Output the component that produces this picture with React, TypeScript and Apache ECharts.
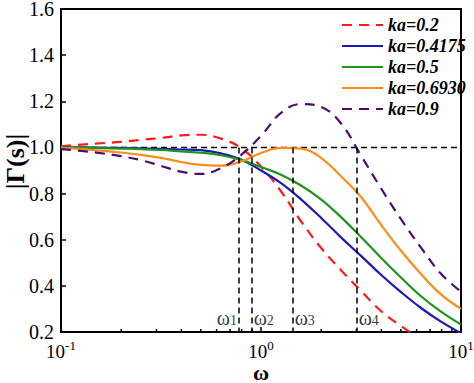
import React, { useEffect, useRef } from "react";
import * as echarts from "echarts";

const omega = [0.1, 0.126, 0.158, 0.2, 0.251, 0.316, 0.398, 0.501, 0.631, 0.794, 1.0, 1.259, 1.585, 1.995, 2.512, 3.162, 3.981, 5.012, 6.31, 7.943, 10];
const ka02 = [1.005, 1.012, 1.018, 1.024, 1.033, 1.041, 1.052, 1.055, 1.038, 0.998, 0.917, 0.81, 0.68, 0.565, 0.468, 0.378, 0.291, 0.226, 0.17, 0.13, 0.1];
const ka04175 = [1.0, 1.0, 0.999, 0.998, 0.996, 0.994, 0.991, 0.988, 0.974, 0.948, 0.9, 0.845, 0.775, 0.695, 0.61, 0.53, 0.448, 0.373, 0.304, 0.245, 0.195];
const ka05 = [1.0, 0.999, 0.997, 0.995, 0.993, 0.989, 0.983, 0.977, 0.966, 0.946, 0.915, 0.882, 0.835, 0.775, 0.698, 0.612, 0.522, 0.436, 0.355, 0.288, 0.232];
const ka0693 = [0.998, 0.993, 0.986, 0.978, 0.968, 0.955, 0.937, 0.924, 0.921, 0.939, 0.976, 0.998, 0.995, 0.955, 0.875, 0.785, 0.665, 0.552, 0.451, 0.363, 0.3];
const ka09 = [0.993, 0.985, 0.975, 0.962, 0.945, 0.92, 0.895, 0.885, 0.91, 0.967, 1.05, 1.15, 1.188, 1.176, 1.104, 0.965, 0.823, 0.689, 0.566, 0.452, 0.375];

const seriesNames = ["ka=0.2", "ka=0.4175", "ka=0.5", "ka=0.6930", "ka=0.9"];
const seriesColors = ["#ff1a1a", "#1a1ab8", "#1a961a", "#ff8c1a", "#4a0f6e"];

const omegaMarks = [0.776, 0.898, 1.44, 3.01];
const omegaSubs = ["1", "2", "3", "4"];
const omegaLabelSide = ["left", "right", "right", "right"];
const refLevel = 1.0;
const labelLevel = 0.262;
const minorTicks = [0.2, 0.3, 0.4, 0.5, 0.6, 0.7, 0.8, 0.9, 2, 3, 4, 5, 6, 7, 8, 9];

const FONT = "'Liberation Serif', 'Times New Roman', serif";

export default function App() {
  const ref = useRef<HTMLDivElement>(null);
  useEffect(() => {
    document.body.style.margin = "0";
    if (!ref.current) return;
    const chart = echarts.init(ref.current, undefined, { renderer: "svg" });
    const curves = [ka02, ka04175, ka05, ka0693, ka09];
    const lineSeries = curves.map((vals, i) => {
      const dashed = i === 0 || i === 4;
      return {
        name: seriesNames[i],
        type: "line",
        data: omega.map((w, j) => [w, vals[j]]),
        smooth: 0.4,
        symbol: "none",
        clip: true,
        z: 3,
        lineStyle: {
          color: seriesColors[i],
          width: 2.2,
          type: dashed ? [10, 7] : "solid",
        },
        itemStyle: { color: seriesColors[i] },
      };
    });
    const option: any = {
      animation: false,
      grid: {
        left: 61,
        right: 13,
        top: 9,
        bottom: 51,
        show: true,
        borderColor: "#000",
        borderWidth: 2,
        backgroundColor: "transparent",
        containLabel: false,
        outerBoundsMode: "none",
      },
      legend: {
        data: seriesNames,
        orient: "vertical",
        left: 336,
        top: 11,
        itemWidth: 41,
        itemHeight: 14,
        itemGap: 3,
        align: "left",
        itemStyle: { opacity: 0 },
        textStyle: {
          fontFamily: FONT,
          fontWeight: "bold",
          fontStyle: "italic",
          fontSize: 18,
          color: "#000",
        },
      },
      xAxis: {
        type: "log",
        logBase: 10,
        min: 0.1,
        max: 10,
        name: "ω",
        nameLocation: "middle",
        nameGap: 30,
        nameMoveOverlap: false,
        nameTextStyle: { fontFamily: FONT, fontWeight: "bold", fontSize: 22, color: "#000", lineHeight: 20 },
        axisLine: { show: true, lineStyle: { color: "#000", width: 2 } },
        axisTick: { show: true, inside: true, length: 5, lineStyle: { color: "#000", width: 1.5 } },
        splitLine: { show: false },
        axisLabel: {
          margin: 7,
          formatter: (v: number) => "{b|10}{s|" + Math.round(Math.log10(v)) + "}",
          rich: {
            b: { fontFamily: FONT, fontSize: 19, color: "#000", lineHeight: 22, verticalAlign: "bottom" },
            s: { fontFamily: FONT, fontSize: 13, color: "#000", lineHeight: 13, verticalAlign: "top" },
          },
        },
      },
      yAxis: {
        type: "value",
        min: 0.2,
        max: 1.6,
        interval: 0.2,
        name: "|Γ(s)|",
        nameLocation: "middle",
        nameRotate: 90,
        nameGap: 33,
        nameMoveOverlap: false,
        nameTextStyle: { fontFamily: FONT, fontWeight: "bold", fontSize: 26, color: "#000", lineHeight: 26, padding: [0, 0, 0, 18] },
        axisLine: { show: true, lineStyle: { color: "#000", width: 2 } },
        axisTick: { show: true, inside: true, length: 5, lineStyle: { color: "#000", width: 1.5 } },
        splitLine: { show: false },
        axisLabel: {
          margin: 7,
          fontFamily: FONT,
          fontSize: 20,
          lineHeight: 14,
          color: "#000",
          formatter: (v: number) => v.toFixed(1),
        },
      },
      series: [
        ...lineSeries,
        {
          name: "ref",
          type: "line",
          data: [
            [0.1, refLevel],
            [10, refLevel],
          ],
          symbol: "none",
          z: 2,
          lineStyle: { color: "#000", width: 1.5, type: [6, 4] },
          markLine: {
            silent: true,
            symbol: "none",
            label: { show: false },
            lineStyle: { color: "#000", width: 1.5, type: [6, 4] },
            data: omegaMarks.map((w) => [{ coord: [w, refLevel] }, { coord: [w, 0.2] }]),
          },
        },
        {
          name: "omegaLabels",
          type: "scatter",
          symbolSize: 0,
          z: 5,
          data: omegaMarks.map((w, i) => ({
            value: [w, labelLevel],
            label: {
              show: true,
              position: omegaLabelSide[i],
              distance: 2,
              formatter: "{w|ω}{s|" + omegaSubs[i] + "}",
              rich: {
                w: { fontFamily: FONT, fontSize: 20, color: "#000", lineHeight: 20, verticalAlign: "top" },
                s: { fontFamily: FONT, fontSize: 14, color: "#000", lineHeight: 14, verticalAlign: "bottom" },
              },
            },
          })),
        },
        {
          name: "minorTicks",
          type: "custom",
          z: 4,
          data: minorTicks.map((t) => [t, 0.2]),
          renderItem: (params: any, api: any) => {
            const p = api.coord([api.value(0), api.value(1)]);
            return {
              type: "line",
              shape: { x1: p[0], y1: p[1], x2: p[0], y2: p[1] - 3 },
              style: { stroke: "#000", lineWidth: 1.5 },
            };
          },
        },
      ],
    };
    chart.setOption(option);
    return () => chart.dispose();
  }, []);
  return <div ref={ref} style={{ width: 474, height: 383 }} />;
}
